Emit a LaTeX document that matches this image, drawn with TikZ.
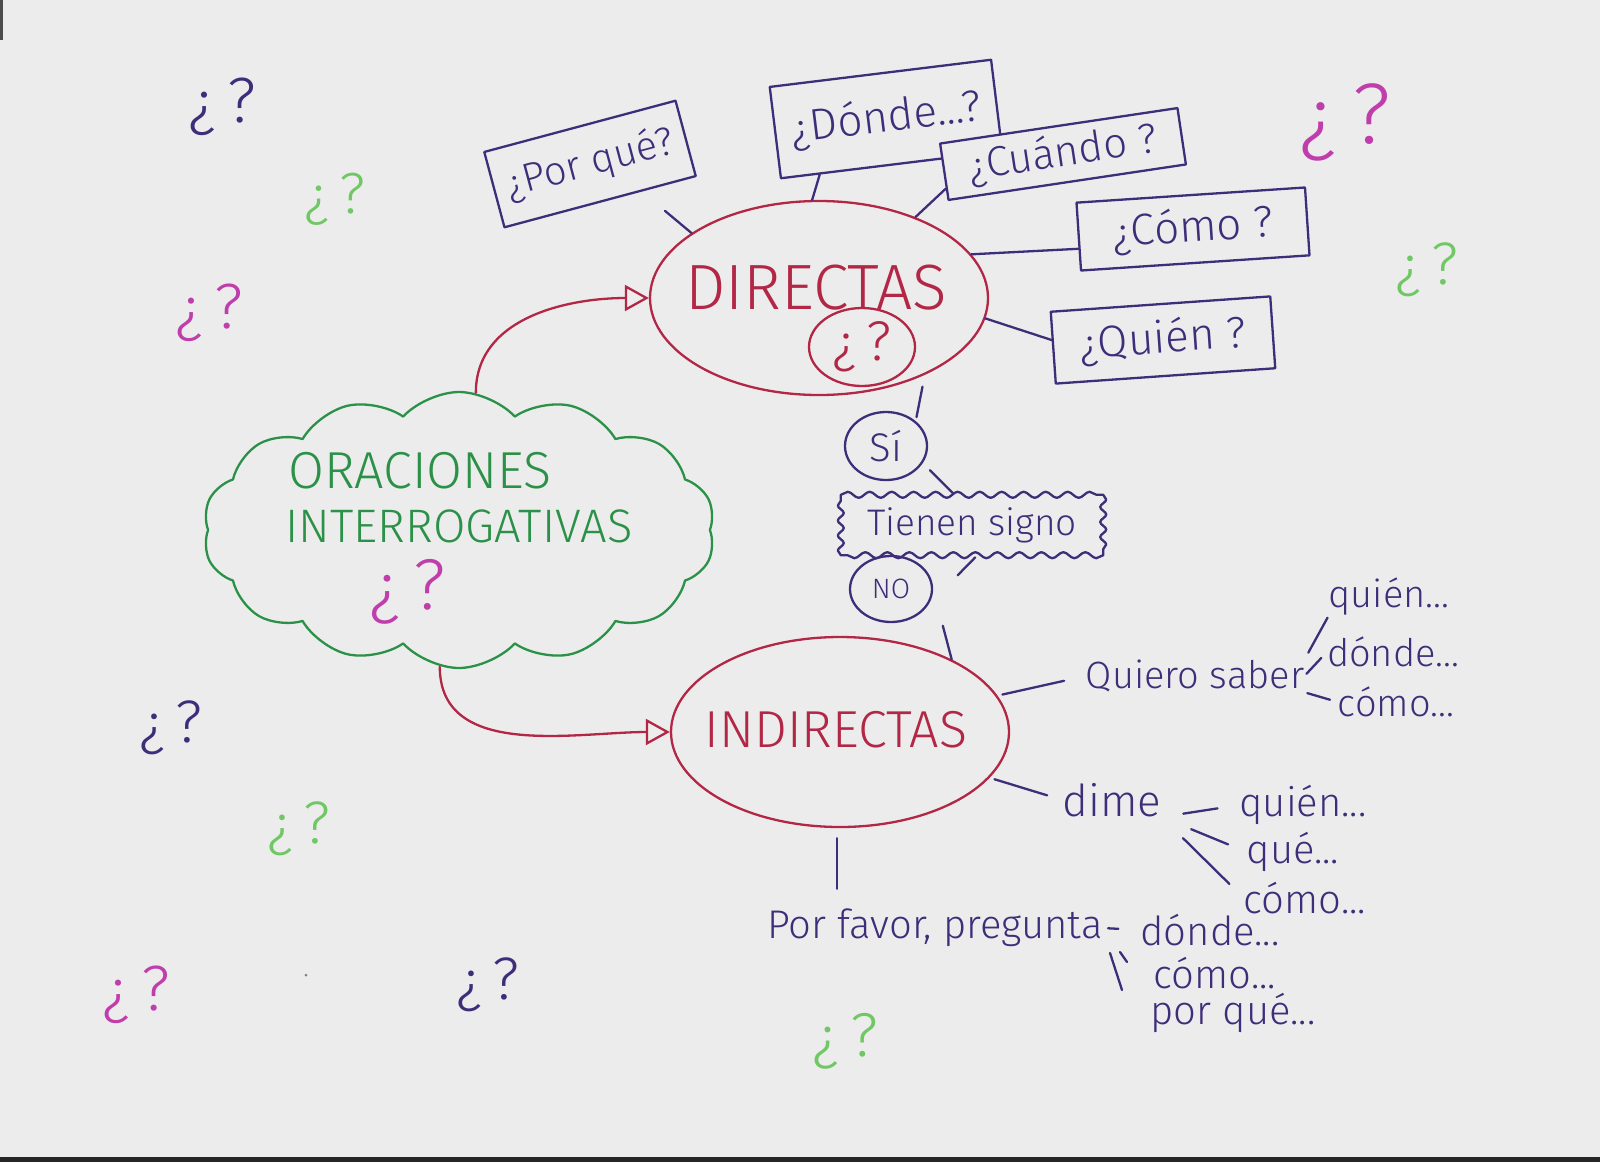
\documentclass[tikz,border=0pt]{standalone}
\usepackage{fontspec}
\setmainfont{Fira Sans}[UprightFont={* Light}]
\usetikzlibrary{shapes.geometric,shapes.symbols,arrows.meta,decorations.pathmorphing}
\definecolor{bg}{RGB}{236,236,236}
\definecolor{ink}{RGB}{62,46,122}
\definecolor{redink}{RGB}{178,38,70}
\definecolor{greenink}{RGB}{44,145,72}
\definecolor{lgreen}{RGB}{112,200,100}
\definecolor{magink}{RGB}{192,62,172}
\newcommand{\fsz}[1]{\fontsize{#1}{#1}\selectfont}
\begin{document}
\begin{tikzpicture}[x=1pt,y=-1pt,
  pen/.style={line width=2.3pt,line cap=round,line join=round},
  link/.style={pen,draw=ink},
  qbox/.style={pen,draw=ink,text=ink,rectangle,inner sep=0pt},
  bigell/.style={pen,draw=redink,ellipse,inner sep=0pt},
  smallell/.style={pen,draw=ink,ellipse,inner sep=0pt,text=ink},
  lbl/.style={text=ink,inner sep=0pt},
  qmark/.style={inner sep=0pt},
  wavyh/.style={decoration={snake,amplitude=3pt,segment length=22pt}},
  wavyv/.style={decoration={snake,amplitude=3pt,segment length=15pt}},
  arr/.style={pen,draw=redink,-{Triangle[open,length=24pt,width=26pt]}}
]
\useasboundingbox (0,0) rectangle (1600,1162);
\fill[bg] (0,0) rectangle (1600,1162);
\fill[black!85] (0,1157) rectangle (1600,1162);
\fill[black!70] (0,0) rectangle (3,40);

% cloud
\node[cloud, pen, draw=greenink, cloud puffs=14, cloud puff arc=95, aspect=1.85,
      minimum width=512pt, minimum height=276pt, inner sep=0pt] (cloud) at (459,530) {};
\node[text=greenink, font=\fsz{52}, inner sep=0pt] (t1) at (420,471) {ORACIONES};
\node[text=greenink, font=\fsz{47}, inner sep=0pt] (t2) at (459,526) {INTERROGATIVAS};
\node[text=magink, font=\fsz{72}, inner sep=0pt] (t3) at (408,592) {¿\,?};

% ellipses
\node[bigell, minimum width=338pt, minimum height=194pt] (dir) at (819,298) {};
\node[text=redink, font=\fsz{64}, inner sep=0pt] (dirt) at (816,288) {DIRECTAS};
\node[pen, draw=redink, ellipse, minimum width=106pt, minimum height=78pt,
      text=redink, font=\fsz{56}, inner sep=0pt] (dirq) at (862,347) {¿\,?};
\node[bigell, minimum width=338pt, minimum height=190pt] (ind) at (840,732) {};
\node[text=redink, font=\fsz{52}, inner sep=0pt] (indt) at (836,730) {INDIRECTAS};

% arrows
\draw[arr] (cloud.83) to[out=90,in=180] (dir.west);
\draw[arr] (cloud.-98) to[out=-90,in=180] (ind.west);

% question boxes
\node[qbox, rotate=15, minimum width=198pt, minimum height=78pt, font=\fsz{40}] (porque) at (590,164) {¿Por qué?};
\node[qbox, rotate=7, minimum width=223pt, minimum height=92pt, font=\fsz{44}] (donde) at (886,119) {¿Dónde...?};
\node[qbox, fill=bg, rotate=8.5, minimum width=240pt, minimum height=57pt, font=\fsz{42}] (cuando) at (1063,154) {¿Cuándo ?};
\node[qbox, rotate=3.8, minimum width=229pt, minimum height=68pt, font=\fsz{44}] (como) at (1193,229) {¿Cómo ?};
\node[qbox, rotate=4, minimum width=220pt, minimum height=72pt, font=\fsz{44}] (quien) at (1163,340) {¿Quién ?};

\draw[link, shorten >=30pt] (dir.153) -- (porque.-43);
\draw[link] (dir.94) -- (donde.-147);
\draw[link] (dir.40) -- (cuando.-172);
\draw[link] (dir.16) -- (como.-174);
\draw[link] (dir.-7) -- (quien.176);

% central chain
\node[smallell, minimum width=82pt, minimum height=68pt, font=\fsz{40}] (si) at (886,446) {Sí};
\node[text=ink, minimum width=262pt, minimum height=60pt, inner sep=0pt, font=\fsz{37}] (tienen) at (972,525) {Tienen signo};
\draw[pen, draw=ink]
  (tienen.north west) decorate[wavyh]{-- (tienen.north east)}
  decorate[wavyv]{-- (tienen.south east)}
  decorate[wavyh]{-- (tienen.south west)}
  decorate[wavyv]{-- (tienen.north west)};
\node[smallell, minimum width=82pt, minimum height=66pt, font=\fsz{28}] (no) at (891,589) {NO};

\draw[link, shorten <=12pt, shorten >=4pt] (dir.-36) -- (si.40);
\draw[link, shorten <=10pt, shorten >=2pt] (si.-25) -- (tienen.120);
\draw[link, shorten <=3pt, shorten >=43pt] (tienen.-80) -- (no.-25);
\draw[link, shorten <=38pt] (no.east) -- (ind.33);

% Quiero saber
\node[lbl, font=\fsz{38}] (quiero) at (1195,676) {Quiero saber};
\node[lbl, font=\fsz{38}] (q1) at (1389,597) {quién...};
\node[lbl, font=\fsz{38}] (q2) at (1393,652) {dónde...};
\node[lbl, font=\fsz{38}] (q3) at (1396,702) {cómo...};
\draw[link, shorten <=5pt, shorten >=22pt] (ind.13) -- (quiero.west);
\draw[link, shorten <=8pt, shorten >=2pt] (quiero.north east) -- (q1.south west);
\draw[link, shorten <=3pt, shorten >=8pt] (quiero.east) -- (q2.west);
\draw[link, shorten <=3pt, shorten >=8pt] (quiero.south east) -- (q3.west);

% dime
\node[lbl, font=\fsz{44}] (dime) at (1112,800) {dime};
\node[lbl, font=\fsz{40}] (dq1) at (1303,805) {quién...};
\node[lbl, font=\fsz{40}] (dq2) at (1293,852) {qué...};
\node[lbl, font=\fsz{40}] (dq3) at (1305,898) {cómo...};
\draw[link, shorten <=5pt, shorten >=16pt] (ind.-17) -- (dime.west);
\draw[link, shorten <=22pt, shorten >=22pt] (dime.south east) -- (dq1.west);
\draw[link, shorten <=32pt, shorten >=20pt] (dime.south east) -- (dq2.west);
\draw[link, shorten <=30pt, shorten >=20pt] (dime.south east) -- (dq3.west);

% Por favor, pregunta
\node[lbl, font=\fsz{40}] (porfavor) at (935,928) {Por favor, pregunta};
\node[lbl, font=\fsz{40}] (pd1) at (1210,930) {dónde...};
\node[lbl, font=\fsz{40}] (pd2) at (1215,973) {cómo...};
\node[lbl, font=\fsz{40}] (pd3) at (1233,1013) {por qué...};
\coordinate (sa1) at (1110,953);
\coordinate (sa2) at (1122,990);
\coordinate (sb1) at (1120,952);
\coordinate (sb2) at (1127,962);
\draw[link, shorten <=5pt, shorten >=22pt] (porfavor.east) -- (pd1.west);
\draw[link] (sa1) -- (sa2);
\draw[link] (sb1) -- (sb2);
\draw[link, shorten <=10pt, shorten >=20pt] (ind.-92) -- (ind.-92 |- porfavor.north);

% scattered question marks
\node[qmark, text=ink, font=\fsz{64}] (m1) at (222,107) {¿\,?};
\node[qmark, text=lgreen, font=\fsz{58}] (m2) at (335,199) {¿\,?};
\node[qmark, text=magink, font=\fsz{64}] (m3) at (209,313) {¿\,?};
\node[qmark, text=magink, font=\fsz{86}] (m4) at (1345,122) {¿\,?};
\node[qmark, text=lgreen, font=\fsz{60}] (m5) at (1427,270) {¿\,?};
\node[qmark, text=ink, font=\fsz{60}] (m6) at (171,728) {¿\,?};
\node[qmark, text=lgreen, font=\fsz{60}] (m7) at (299,829) {¿\,?};
\node[qmark, text=magink, font=\fsz{64}] (m8) at (136,995) {¿\,?};
\node[qmark, text=ink, font=\fsz{60}] (m9) at (488,985) {¿\,?};
\node[qmark, text=lgreen, font=\fsz{62}] (m10) at (845,1041) {¿\,?};
\fill[black!50] (306,975) circle (1.5pt);
\end{tikzpicture}
\end{document}
